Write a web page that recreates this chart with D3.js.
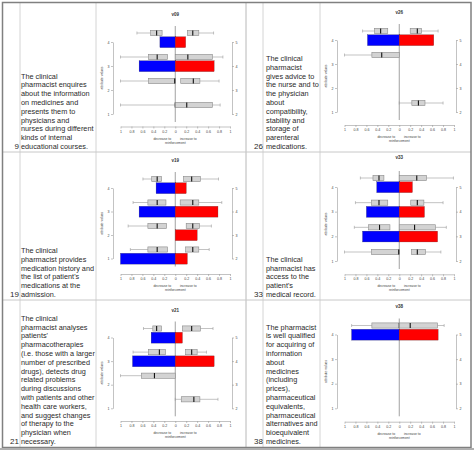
<!DOCTYPE html>
<html><head><meta charset="utf-8">
<script src="https://cdn.jsdelivr.net/npm/d3@7"></script>
<style>html,body{margin:0;padding:0;background:#fff;}svg{display:block;}</style>
</head><body>
<svg id="chart" width="474" height="450"></svg>
<script>
// ---------- DATA ----------
const chartTitles = ["v09", "v26", "v19", "v33", "v21", "v38"];
const itemNumbers = ["9", "26", "19", "33", "21", "38"];
const itemTexts = [
  ["The clinical", "pharmacist enquires", "about the information", "on medicines and", "presents them to", "physicians and", "nurses during different", "kinds of internal", "educational courses."],
  ["The clinical", "pharmacist", "gives advice to", "the nurse and to", "the physician", "about", "compatibility,", "stability and", "storage of", "parenteral", "medications."],
  ["The clinical", "pharmacist provides", "medication history and", "the list of patient's", "medications at the", "admission."],
  ["The clinical", "pharmacist has", "access to the", "patient's", "medical record."],
  ["The clinical", "pharmacist analyses", "patients'", "pharmacotherapies", "(i.e. those with a larger", "number of prescribed", "drugs), detects drug", "related problems", "during discussions", "with patients and other", "health care workers,", "and suggest changes", "of therapy to the", "physician when", "necessary."],
  ["The pharmacist", "is well qualified", "for acquiring of", "information", "about", "medicines", "(including", "prices),", "pharmaceutical", "equivalents,", "pharmaceutical", "alternatives and", "bioequivalent", "medicines."]
];
const levels = [1, 2, 3, 4];
const leftAxisLabels = ["1", "2", "3", "4"];
const rightAxisLabels = ["2", "3", "4", "5"];
const xTickValues = [-1, -0.8, -0.6, -0.4, -0.2, 0, 0.2, 0.4, 0.6, 0.8, 1];
const xTickLabels = ["1", "0.8", "0.6", "0.4", "0.2", "0", "0.2", "0.4", "0.6", "0.8", "1"];
const yAxisTitle = "attribute values";
const xAxisTitleLeft = "decrease to";
const xAxisTitleRight = "increase to";
const xAxisTitleBottom = "reinforcement";

// bars per chart, per level [1,2,3,4]
const barDecrease = [
  [0, 0, -0.66, -0.28],
  [0, 0, 0, -0.58],
  [-1.0, 0, -0.66, -0.35],
  [0, -0.67, -0.60, -0.41],
  [0, 0, -0.78, -0.44],
  [0, 0, 0, -0.87]
];
const barIncrease = [
  [0, 0, 0.71, 0.19],
  [0, 0, 0, 0.63],
  [0.22, 0.40, 0.78, 0.20],
  [0, 0.70, 0.46, 0.24],
  [0, 0, 0.71, 0.13],
  [0, 0, 0, 0.71]
];
// boxplots [whiskerLow, q1, median, q3, whiskerHigh] per chart, per level [1,2,3,4]
const boxDecrease = [
  [[-1.0, 0, 0, 0, 0], [-1.0, -0.49, -0.01, 0, 0], [-1.0, -0.49, -0.33, -0.14, -0.14], [-0.70, -0.45, -0.34, -0.24, -0.24]],
  [null, null, [-1.0, -0.50, -0.32, 0, 0], [-0.67, -0.45, -0.34, -0.21, -0.21]],
  [[-0.82, -0.50, -0.33, -0.14, -0.14], [-0.86, -0.50, -0.33, -0.16, -0.16], [-0.77, -0.50, -0.33, -0.17, -0.17], [-0.59, -0.43, -0.33, -0.25, -0.25]],
  [[-1.0, -0.51, -0.01, 0, 0], [-0.82, -0.56, -0.36, -0.17, -0.17], [-0.80, -0.51, -0.37, -0.21, -0.21], [-0.71, -0.48, -0.37, -0.28, -0.28]],
  [null, [-1.0, -0.62, -0.38, 0, 0], [-0.77, -0.49, -0.29, -0.18, -0.18], [-0.58, -0.41, -0.34, -0.25, -0.25]],
  [null, null, null, [-0.87, -0.50, 0, 0, 0]]
];
const boxIncrease = [
  [[0, 0, 0.21, 0.68, 0.82], [0.10, 0.10, 0.33, 0.45, 0.80], [0, 0, 0.23, 0.68, 0.87], [0.22, 0.22, 0.32, 0.43, 0.70]],
  [[0, 0.23, 0.35, 0.47, 0.80], null, null, [0.20, 0.20, 0.33, 0.41, 0.71]],
  [[0.19, 0.19, 0.32, 0.43, 0.62], [0.20, 0.20, 0.32, 0.44, 0.66], [0.09, 0.09, 0.32, 0.43, 0.85], [0.15, 0.15, 0.30, 0.46, 0.79]],
  [[0.22, 0.22, 0.33, 0.48, 0.76], [0, 0, 0.28, 0.66, 0.86], [0.21, 0.21, 0.33, 0.45, 0.80], [0, 0, 0.32, 0.50, 0.99]],
  [[0, 0.11, 0.34, 0.45, 0.78], null, [0.19, 0.19, 0.30, 0.40, 0.57], [0.13, 0.13, 0.30, 0.46, 0.69]],
  [null, null, null, [0, 0, 0.20, 0.70, 0.82]]
];

// ---------- LAYOUT ----------
const svg = d3.select("#chart");
const rowTops = [3, 152, 300];
const rowBottoms = [152, 300, 447];
const groups = [{numRight: 19, textX: 21, chartX: 96}, {numRight: 263, textX: 266, chartX: 320}];
const cellLayout = [
  {title: 11, l4: 39, l1: 111, axis: 123.5},
  {title: 9, l4: 37, l1: 109, axis: 122},
  {title: 8.7, l4: 36, l1: 106.5, axis: 122},
  {title: 5.5, l4: 35, l1: 109, axis: 122.3},
  {title: 10, l4: 37.5, l1: 108.3, axis: 121},
  {title: 6, l4: 34.5, l1: 108.3, axis: 121.7}
];
const textFont = "'Liberation Sans', Arial, sans-serif";

// table grid
const grid = svg.append("g");
[20, 96, 263, 320].forEach(x => grid.append("line").attr("x1", x).attr("x2", x).attr("y1", 3).attr("y2", 447).attr("stroke", "#d4d4d4").attr("stroke-width", 1));
grid.append("line").attr("x1", 246).attr("x2", 246).attr("y1", 3).attr("y2", 447).attr("stroke", "#b8b8b8").attr("stroke-width", 1);
[152, 300].forEach(y => grid.append("line").attr("x1", 3).attr("x2", 471).attr("y1", y).attr("y2", y).attr("stroke", "#c8c8c8").attr("stroke-width", 1));
grid.append("rect").attr("x", 2.5).attr("y", 2.5).attr("width", 468.5).attr("height", 445).attr("fill", "none").attr("stroke", "#808080").attr("stroke-width", 1.5);
grid.append("rect").attr("x", 0).attr("y", 448).attr("width", 474).attr("height", 2).attr("fill", "#b0b0b0");

chartTitles.forEach((title, ci) => {
  const row = Math.floor(ci / 2), col = ci % 2;
  const g = groups[col];
  const y0 = rowTops[row], yb = rowBottoms[row];
  const L = cellLayout[ci];
  const x0 = g.chartX;

  // number + text
  const lines = itemTexts[ci];
  const lh = 8.8;
  const lastBase = yb - 3;
  svg.append("text").attr("x", g.numRight).attr("y", lastBase).attr("text-anchor", "end")
    .attr("font-family", textFont).attr("font-size", 8).attr("fill", "#2a2a2a").text(itemNumbers[ci]);
  lines.forEach((t, i) => {
    svg.append("text").attr("x", g.textX).attr("y", lastBase - (lines.length - 1 - i) * lh)
      .attr("font-family", textFont).attr("font-size", 7.3).attr("fill", "#2a2a2a").text(t);
  });

  // scales
  const xs = d3.scaleLinear().domain([-1, 1]).range([x0 + 24.5, x0 + 134]);
  const ys = d3.scaleLinear().domain([1, 4]).range([y0 + L.l1, y0 + L.l4]);
  const cg = svg.append("g");

  // title
  cg.append("text").attr("x", xs(0)).attr("y", y0 + L.title + 1.5).attr("text-anchor", "middle")
    .attr("font-family", textFont).attr("font-size", 4.5).attr("font-weight", "bold").attr("fill", "#333").text(title);

  // axes
  const styleAxis = sel => {
    sel.attr("font-family", textFont).attr("font-size", 3.6);
    sel.selectAll("path,line").attr("stroke", "#9a9a9a").attr("stroke-width", 0.6);
    sel.selectAll("text").attr("fill", "#444");
  };
  const bottom = cg.append("g").attr("transform", `translate(0,${y0 + L.axis})`)
    .call(d3.axisBottom(xs).tickValues(xTickValues).tickFormat((d, i) => xTickLabels[i]).tickSize(2).tickSizeOuter(0).tickPadding(1.5));
  styleAxis(bottom);
  const left = cg.append("g").attr("transform", `translate(${x0 + 17},0)`)
    .call(d3.axisLeft(ys).tickValues(levels).tickFormat((d, i) => leftAxisLabels[i]).tickSize(2).tickSizeOuter(0).tickPadding(1.5));
  styleAxis(left);
  const right = cg.append("g").attr("transform", `translate(${x0 + 136},0)`)
    .call(d3.axisRight(ys).tickValues(levels).tickFormat((d, i) => rightAxisLabels[i]).tickSize(2).tickSizeOuter(0).tickPadding(1.5));
  styleAxis(right);

  // axis titles
  const ymid = (ys(1) + ys(4)) / 2;
  cg.append("text").attr("transform", `translate(${x0 + 7},${ymid}) rotate(-90)`).attr("text-anchor", "middle")
    .attr("font-family", textFont).attr("font-size", 3.4).attr("fill", "#444").text(yAxisTitle);
  cg.append("text").attr("x", xs(0) - 13).attr("y", y0 + L.axis + 13).attr("text-anchor", "middle")
    .attr("font-family", textFont).attr("font-size", 3.4).attr("fill", "#444").text(xAxisTitleLeft);
  cg.append("text").attr("x", xs(0) + 13).attr("y", y0 + L.axis + 13).attr("text-anchor", "middle")
    .attr("font-family", textFont).attr("font-size", 3.4).attr("fill", "#444").text(xAxisTitleRight);
  cg.append("text").attr("x", xs(0)).attr("y", y0 + L.axis + 17).attr("text-anchor", "middle")
    .attr("font-family", textFont).attr("font-size", 3.4).attr("fill", "#444").text(xAxisTitleBottom);

  // center line
  cg.append("line").attr("x1", xs(0)).attr("x2", xs(0)).attr("y1", ys(4) - 16).attr("y2", ys(1) + 8)
    .attr("stroke", "#8a8a8a").attr("stroke-width", 0.8);

  // bars
  levels.forEach((lv, li) => {
    const yc = ys(lv);
    const dv = barDecrease[ci][li], iv = barIncrease[ci][li];
    if (dv < 0) cg.append("rect").attr("x", xs(dv)).attr("y", yc - 5.2).attr("width", xs(0) - xs(dv)).attr("height", 10.8)
      .attr("fill", "#0000ff").attr("stroke", "#202060").attr("stroke-width", 0.3);
    if (iv > 0) cg.append("rect").attr("x", xs(0)).attr("y", yc - 5.2).attr("width", xs(iv) - xs(0)).attr("height", 10.8)
      .attr("fill", "#ff0000").attr("stroke", "#602020").attr("stroke-width", 0.3);
  });

  // boxplots
  const drawBox = (b, yc) => {
    if (!b) return;
    const [wlo, q1, med, q3, whi] = b;
    const wcol = "#9a9a9a";
    if (wlo < q1) {
      cg.append("line").attr("x1", xs(wlo)).attr("x2", xs(q1)).attr("y1", yc).attr("y2", yc).attr("stroke", wcol).attr("stroke-width", 0.6);
      cg.append("line").attr("x1", xs(wlo)).attr("x2", xs(wlo)).attr("y1", yc - 1.5).attr("y2", yc + 1.5).attr("stroke", wcol).attr("stroke-width", 0.6);
    }
    if (whi > q3) {
      cg.append("line").attr("x1", xs(q3)).attr("x2", xs(whi)).attr("y1", yc).attr("y2", yc).attr("stroke", wcol).attr("stroke-width", 0.6);
      cg.append("line").attr("x1", xs(whi)).attr("x2", xs(whi)).attr("y1", yc - 1.5).attr("y2", yc + 1.5).attr("stroke", wcol).attr("stroke-width", 0.6);
    }
    cg.append("rect").attr("x", xs(q1)).attr("y", yc - 2.6).attr("width", Math.max(0, xs(q3) - xs(q1))).attr("height", 5.2)
      .attr("fill", "#d3d3d3").attr("stroke", "#8a8a8a").attr("stroke-width", 0.6);
    cg.append("line").attr("x1", xs(med)).attr("x2", xs(med)).attr("y1", yc - 2.6).attr("y2", yc + 2.6)
      .attr("stroke", "#111").attr("stroke-width", 1.1);
  };
  levels.forEach((lv, li) => {
    const yb2 = ys(lv) - 9;
    drawBox(boxDecrease[ci][li], yb2);
    drawBox(boxIncrease[ci][li], yb2);
  });
});
</script>
</body></html>
